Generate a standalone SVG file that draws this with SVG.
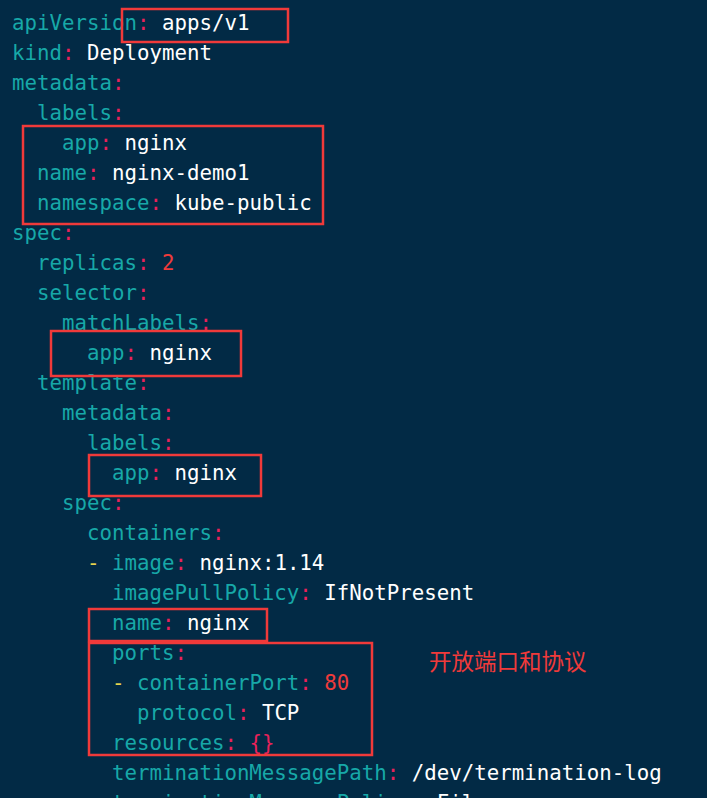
<svg xmlns="http://www.w3.org/2000/svg" width="707" height="798" viewBox="0 0 707 798">
<style>
text{font-family:"DejaVu Sans Mono","Liberation Mono",monospace;font-size:20.75px;fill:#ffffff;white-space:pre}
.k{fill:#17a8a8}.c{fill:#e8225a}.n{fill:#ef3b3b}.b{fill:#e8225a}
.box{fill:none;stroke:#f03a3a;stroke-width:2.5}
.zh{font-family:"Noto Sans CJK SC",sans-serif;font-size:22.5px;fill:#f03a3a}
</style>
<rect width="707" height="798" fill="#022a45"/>
<g id="code" xml:space="preserve">
<text x="12" y="30"><tspan class="k">apiVersion</tspan><tspan class="c">:</tspan> apps/v1</text>
<text x="12" y="60"><tspan class="k">kind</tspan><tspan class="c">:</tspan> Deployment</text>
<text x="12" y="90"><tspan class="k">metadata</tspan><tspan class="c">:</tspan></text>
<text x="12" y="120">  <tspan class="k">labels</tspan><tspan class="c">:</tspan></text>
<text x="12" y="150">    <tspan class="k">app</tspan><tspan class="c">:</tspan> nginx</text>
<text x="12" y="180">  <tspan class="k">name</tspan><tspan class="c">:</tspan> nginx-demo1</text>
<text x="12" y="210">  <tspan class="k">namespace</tspan><tspan class="c">:</tspan> kube-public</text>
<text x="12" y="240"><tspan class="k">spec</tspan><tspan class="c">:</tspan></text>
<text x="12" y="270">  <tspan class="k">replicas</tspan><tspan class="c">:</tspan> <tspan class="n">2</tspan></text>
<text x="12" y="300">  <tspan class="k">selector</tspan><tspan class="c">:</tspan></text>
<text x="12" y="330">    <tspan class="k">matchLabels</tspan><tspan class="c">:</tspan></text>
<text x="12" y="360">      <tspan class="k">app</tspan><tspan class="c">:</tspan> nginx</text>
<text x="12" y="390">  <tspan class="k">template</tspan><tspan class="c">:</tspan></text>
<text x="12" y="420">    <tspan class="k">metadata</tspan><tspan class="c">:</tspan></text>
<text x="12" y="450">      <tspan class="k">labels</tspan><tspan class="c">:</tspan></text>
<text x="12" y="480">        <tspan class="k">app</tspan><tspan class="c">:</tspan> nginx</text>
<text x="12" y="510">    <tspan class="k">spec</tspan><tspan class="c">:</tspan></text>
<text x="12" y="540">      <tspan class="k">containers</tspan><tspan class="c">:</tspan></text>
<text x="12" y="570">      <tspan fill="#e8d44d">-</tspan> <tspan class="k">image</tspan><tspan class="c">:</tspan> nginx:1.14</text>
<text x="12" y="600">        <tspan class="k">imagePullPolicy</tspan><tspan class="c">:</tspan> IfNotPresent</text>
<text x="12" y="630">        <tspan class="k">name</tspan><tspan class="c">:</tspan> nginx</text>
<text x="12" y="660">        <tspan class="k">ports</tspan><tspan class="c">:</tspan></text>
<text x="12" y="690">        <tspan fill="#e8d44d">-</tspan> <tspan class="k">containerPort</tspan><tspan class="c">:</tspan> <tspan class="n">80</tspan></text>
<text x="12" y="720">          <tspan class="k">protocol</tspan><tspan class="c">:</tspan> TCP</text>
<text x="12" y="750">        <tspan class="k">resources</tspan><tspan class="c">:</tspan> <tspan class="b">{}</tspan></text>
<text x="12" y="780">        <tspan class="k">terminationMessagePath</tspan><tspan class="c">:</tspan> /dev/termination-log</text>
<text x="12" y="810">        <tspan class="k">terminationMessagePolicy</tspan><tspan class="c">:</tspan> File</text>
</g>
<g id="boxes">
<rect class="box" x="122" y="9" width="166" height="33"/>
<rect class="box" x="23" y="126" width="300" height="98"/>
<rect class="box" x="51" y="331" width="190" height="45"/>
<rect class="box" x="89" y="455" width="172" height="41"/>
<rect class="box" x="89" y="609" width="178" height="32"/>
<rect class="box" x="89" y="643" width="283" height="112"/>
</g>
<g id="note"><text class="zh" x="429" y="670">开放端口和协议</text></g>
</svg>
